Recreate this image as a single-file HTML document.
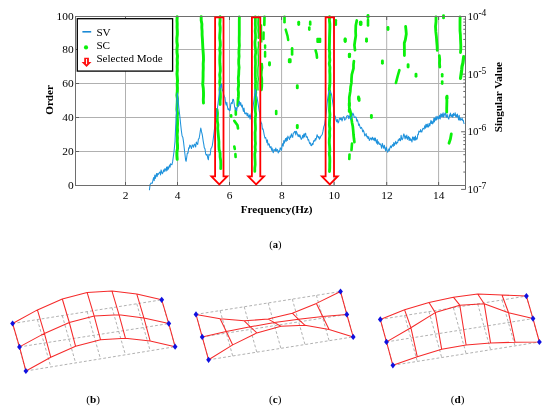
<!DOCTYPE html><html><head><meta charset="utf-8"><style>html,body{margin:0;padding:0;background:#fff;}svg{display:block;}text{font-family:"Liberation Serif","Times New Roman",serif;fill:#000;}</style></head><body>
<svg width="550" height="414" viewBox="0 0 550 414">
<rect width="550" height="414" fill="#fff"/>
<path d="M125.50 16.5V185.5M177.50 16.5V185.5M229.50 16.5V185.5M281.60 16.5V185.5M334.10 16.5V185.5M386.70 16.5V185.5M438.60 16.5V185.5M75.5 151.50H465.5M75.5 117.50H465.5M75.5 83.50H465.5M75.5 49.50H465.5" stroke="#b0b0b0" stroke-width="1" fill="none"/>
<path d="M125.50 185.5v-3.5M125.50 16.5v3.5M177.50 185.5v-3.5M177.50 16.5v3.5M229.50 185.5v-3.5M229.50 16.5v3.5M281.60 185.5v-3.5M281.60 16.5v3.5M334.10 185.5v-3.5M334.10 16.5v3.5M386.70 185.5v-3.5M386.70 16.5v3.5M438.60 185.5v-3.5M438.60 16.5v3.5M75.5 185.50h3.5M75.5 151.50h3.5M75.5 117.50h3.5M75.5 83.50h3.5M75.5 49.50h3.5M75.5 16.50h3.5M465.5 74.13h-4.4M465.5 56.78h-2.2M465.5 46.64h-2.2M465.5 39.43h-2.2M465.5 33.85h-2.2M465.5 29.29h-2.2M465.5 25.43h-2.2M465.5 22.09h-2.2M465.5 19.14h-2.2M465.5 131.77h-4.4M465.5 114.42h-2.2M465.5 104.27h-2.2M465.5 97.07h-2.2M465.5 91.48h-2.2M465.5 86.92h-2.2M465.5 83.06h-2.2M465.5 79.72h-2.2M465.5 76.77h-2.2M465.5 189.40h-4.4M465.5 172.05h-2.2M465.5 161.90h-2.2M465.5 154.70h-2.2M465.5 149.12h-2.2M465.5 144.55h-2.2M465.5 140.69h-2.2M465.5 137.35h-2.2M465.5 134.40h-2.2M465.5 16.5h-4.4M465.5 185.5V189.4" stroke="#555" stroke-width="0.9" fill="none"/>
<path d="M177.2 16.8 L177.0 20.4 L177.2 23.9 L177.1 27.5 L177.3 31.1 L177.3 34.6 L176.9 38.2 L176.9 41.7 L177.4 45.3 L177.0 48.9 L177.0 52.4 L177.5 56.0 L177.2 59.5 L177.4 63.1 L177.2 66.7 L177.3 70.2 L177.0 73.8 L177.3 77.4 L177.5 80.9 L177.2 84.5 L177.4 88.0 L177.3 91.6 L176.9 95.2 L177.4 98.7 L177.3 102.3 L177.1 105.9 L176.9 109.4 L177.5 113.0 L177.2 116.5 L177.4 120.1 L177.5 123.7 L177.3 127.2 L177.5 130.8 L177.1 134.4 L177.4 137.9 L177.2 141.5 L177.5 145.1 L177.5 148.6 L176.9 152.2 L176.9 155.7 L177.2 159.3" stroke="#0af00a" stroke-width="2.99" stroke-linecap="round" stroke-linejoin="round" fill="none"/><path d="M201.2 16.8 L201.2 20.4 L201.9 24.0 L201.8 27.6 L202.1 31.2 L202.1 34.8 L202.4 39.0 L202.6 43.1 L202.8 47.3 L203.1 51.4 L203.4 55.6 L203.5 59.8 L203.2 63.9 L203.3 68.1 L203.1 72.2 L203.1 76.4 L203.0 80.3 L202.7 84.3 L203.3 88.2 L203.5 92.1 L203.5 96.1 L203.3 100.0 L203.5 103.1" stroke="#0af00a" stroke-width="2.90" stroke-linecap="round" stroke-linejoin="round" fill="none"/><path d="M220.0 16.8 L220.1 20.4 L219.8 24.0 L220.2 27.6 L220.1 31.2 L219.8 34.8 L219.7 38.4 L220.2 42.0 L220.3 45.6 L219.7 49.2 L220.2 52.8 L219.9 56.4 L219.8 60.0 L219.9 63.7 L220.2 67.4 L220.3 71.1 L219.7 74.8 L220.1 78.5 L219.7 82.2 L220.2 86.0 L219.9 89.7 L220.3 93.4 L220.4 97.1 L220.1 100.8 L220.1 104.5" stroke="#0af00a" stroke-width="2.90" stroke-linecap="round" stroke-linejoin="round" fill="none"/><path d="M217.0 109.5 L217.5 113.3 L217.3 117.1 L217.3 120.9 L217.9 124.7 L217.7 128.5 L218.1 132.8 L218.5 137.2 L218.9 141.6 L218.9 145.9 L219.1 149.5 L220.1 153.1 L220.1 156.7 L220.7 160.7 L220.8 164.7 L220.7 168.7" stroke="#0af00a" stroke-width="2.82" stroke-linecap="round" stroke-linejoin="round" fill="none"/><path d="M239.4 16.8 L239.3 20.4 L239.3 24.0 L239.3 27.6 L239.3 31.2 L239.3 34.8 L239.2 38.4 L239.2 42.0 L239.4 45.6 L239.0 49.2 L238.9 52.8 L239.1 56.4 L238.7 60.0 L238.7 63.6 L239.1 67.3 L238.8 70.9 L238.7 74.5 L238.3 78.2 L238.5 81.8 L238.6 85.5 L238.1 89.1 L238.5 92.7 L238.4 96.4 L238.0 100.0 L237.8 105.5" stroke="#0af00a" stroke-width="2.82" stroke-linecap="round" stroke-linejoin="round" fill="none"/><path d="M255.3 16.8 L255.4 20.4 L255.3 24.0 L255.5 27.6 L255.2 31.2 L255.5 34.8 L255.5 38.4 L255.0 42.0 L255.1 45.6 L255.5 49.2 L255.7 52.8 L255.2 56.4 L255.4 60.0 L255.5 63.6 L255.3 67.3 L255.4 70.9 L255.3 74.5 L255.4 78.2 L255.6 81.8 L255.4 85.5 L255.5 89.1 L255.8 92.7 L255.3 96.4 L255.6 100.0 L255.7 103.6 L255.4 107.3 L255.3 110.9 L255.7 114.5 L255.3 118.2 L255.2 121.8 L255.4 125.5 L255.5 129.1 L255.1 132.7 L255.2 136.4 L255.2 140.0 L255.5 143.5 L255.1 147.0 L255.4 150.5 L254.8 154.0 L254.9 157.5 L255.1 161.0 L255.2 164.5 L254.8 168.0 L254.8 171.5" stroke="#0af00a" stroke-width="2.73" stroke-linecap="round" stroke-linejoin="round" fill="none"/><path d="M258.5 16.8 L258.3 20.3 L258.2 23.9 L258.5 27.4 L258.3 30.9 L258.7 34.5 L258.5 38.0" stroke="#0af00a" stroke-width="2.02" stroke-linecap="round" stroke-linejoin="round" fill="none"/><path d="M258.3 42.0 L258.5 45.7 L258.0 49.4 L258.1 53.1 L258.4 56.8 L258.3 60.5 L258.4 64.2 L258.0 67.8 L257.9 71.5 L257.9 75.2 L258.3 78.9 L257.9 82.6 L257.9 86.3 L258.0 90.0" stroke="#0af00a" stroke-width="1.41" stroke-linecap="round" stroke-linejoin="round" fill="none"/><path d="M261.5 25.0 L261.5 29.2 L261.6 33.5 L261.7 37.8 L261.8 42.0" stroke="#0af00a" stroke-width="1.41" stroke-linecap="round" stroke-linejoin="round" fill="none"/><path d="M261.9 64.0 L262.2 67.7 L261.6 71.4 L261.4 75.1 L262.0 78.9 L262.0 82.6 L262.0 86.3 L261.6 90.0" stroke="#0af00a" stroke-width="2.29" stroke-linecap="round" stroke-linejoin="round" fill="none"/><path d="M264.5 16.8 L264.4 20.9 L264.3 24.9" stroke="#0af00a" stroke-width="2.64" stroke-linecap="round" stroke-linejoin="round" fill="none"/><path d="M263.6 32.5 L263.5 39.0" stroke="#0af00a" stroke-width="2.46" stroke-linecap="round" stroke-linejoin="round" fill="none"/><path d="M265.1 45.5 L265.1 47.7" stroke="#0af00a" stroke-width="2.46" stroke-linecap="round" stroke-linejoin="round" fill="none"/><path d="M265.1 52.0 L265.1 56.4" stroke="#0af00a" stroke-width="2.46" stroke-linecap="round" stroke-linejoin="round" fill="none"/><path d="M284.5 16.8 L284.5 22.3" stroke="#0af00a" stroke-width="2.64" stroke-linecap="round" stroke-linejoin="round" fill="none"/><path d="M285.7 29.6 L287.5 35.8 L288.2 40.0" stroke="#0af00a" stroke-width="2.46" stroke-linecap="round" stroke-linejoin="round" fill="none"/><path d="M292.1 48.3 L292.1 54.5" stroke="#0af00a" stroke-width="2.64" stroke-linecap="round" stroke-linejoin="round" fill="none"/><path d="M315.6 50.4 L316.6 54.0 L317.0 57.7" stroke="#0af00a" stroke-width="2.64" stroke-linecap="round" stroke-linejoin="round" fill="none"/><path d="M310.2 21.9 L310.2 24.4" stroke="#0af00a" stroke-width="2.64" stroke-linecap="round" stroke-linejoin="round" fill="none"/><path d="M329.6 16.8 L329.4 20.4 L329.8 24.0 L329.8 27.7 L329.7 31.3 L329.6 34.9 L329.5 38.5 L329.5 42.1 L329.4 45.7 L329.3 49.4 L329.7 53.0 L329.5 56.6 L329.8 60.2 L329.3 63.8 L329.9 67.4 L329.7 71.1 L329.9 74.7 L329.9 78.3 L329.9 81.9 L329.7 85.5 L329.3 89.1 L329.8 92.8 L329.4 96.4 L329.5 100.0 L329.7 103.6 L329.6 107.2 L329.5 110.7 L329.9 114.3 L329.7 117.9 L329.5 121.5 L329.4 125.0 L329.8 128.6 L329.5 132.2 L329.7 135.8 L329.4 139.3 L329.3 142.9 L329.6 146.5 L329.8 150.1 L329.3 153.6 L329.7 157.2 L329.8 160.8 L329.7 164.4 L329.7 167.9 L329.5 171.5" stroke="#0af00a" stroke-width="2.90" stroke-linecap="round" stroke-linejoin="round" fill="none"/><path d="M335.8 20.2 L335.8 24.8" stroke="#0af00a" stroke-width="2.64" stroke-linecap="round" stroke-linejoin="round" fill="none"/><path d="M356.8 20.5 L355.8 25.6 L355.6 31.4 L355.8 35.7 L354.9 41.5 L354.4 45.2 L355.0 50.2" stroke="#0af00a" stroke-width="2.73" stroke-linecap="round" stroke-linejoin="round" fill="none"/><path d="M353.9 61.1 L353.5 64.7 L353.5 68.3 L351.8 74.6 L351.5 78.8 L351.4 82.9 L350.6 87.1 L350.3 91.2 L349.3 97.4 L349.3 102.6 L349.3 107.8 L350.5 111.9 L351.0 116.1 L352.0 122.4 L352.8 126.5 L353.2 130.7 L353.5 134.5 L353.9 138.3 L354.4 142.1" stroke="#0af00a" stroke-width="2.73" stroke-linecap="round" stroke-linejoin="round" fill="none"/><path d="M368.0 20.0 L368.0 25.4" stroke="#0af00a" stroke-width="2.64" stroke-linecap="round" stroke-linejoin="round" fill="none"/><path d="M399.4 70.2 L397.7 76.0 L396.8 79.5 L395.9 83.0" stroke="#0af00a" stroke-width="2.64" stroke-linecap="round" stroke-linejoin="round" fill="none"/><path d="M405.6 26.4 L406.0 30.2 L406.3 34.0 L405.3 40.0 L404.3 43.0 L404.4 49.3 L404.4 55.5" stroke="#0af00a" stroke-width="2.82" stroke-linecap="round" stroke-linejoin="round" fill="none"/><path d="M436.0 16.8 L436.0 21.6 L435.5 26.5 L435.8 31.7 L436.4 36.9 L436.7 41.4 L437.1 45.9 L437.3 50.4" stroke="#0af00a" stroke-width="2.82" stroke-linecap="round" stroke-linejoin="round" fill="none"/><path d="M439.3 55.6 L439.7 59.4 L439.5 63.2 L439.8 67.0" stroke="#0af00a" stroke-width="2.82" stroke-linecap="round" stroke-linejoin="round" fill="none"/><path d="M446.7 97.2 L446.9 101.0 L446.8 104.7 L446.7 108.5 L446.7 112.2" stroke="#0af00a" stroke-width="2.82" stroke-linecap="round" stroke-linejoin="round" fill="none"/><path d="M451.3 134.0 L450.4 139.0 L449.0 143.2" stroke="#0af00a" stroke-width="2.82" stroke-linecap="round" stroke-linejoin="round" fill="none"/><path d="M460.1 16.8 L460.0 21.6 L460.0 26.5 L460.0 30.7 L460.4 34.8 L460.5 39.0 L460.8 45.2 L460.8 48.9 L460.5 52.5" stroke="#0af00a" stroke-width="2.82" stroke-linecap="round" stroke-linejoin="round" fill="none"/><path d="M463.7 56.6 L462.9 63.0 L462.0 66.5 L461.7 70.0 L461.1 74.2 L460.5 78.4" stroke="#0af00a" stroke-width="3.17" stroke-linecap="round" stroke-linejoin="round" fill="none"/><path d="M231.1 115.4 L231.1 116.6" stroke="#0af00a" stroke-width="2.64" stroke-linecap="round" stroke-linejoin="round" fill="none"/><path d="M234.3 120.9 L237.5 125.2 L238.0 128.5" stroke="#0af00a" stroke-width="2.64" stroke-linecap="round" stroke-linejoin="round" fill="none"/><path d="M235.8 110.4 L235.8 114.6" stroke="#0af00a" stroke-width="2.64" stroke-linecap="round" stroke-linejoin="round" fill="none"/><path d="M234.3 146.5 L234.8 149.0" stroke="#0af00a" stroke-width="2.64" stroke-linecap="round" stroke-linejoin="round" fill="none"/><path d="M235.4 154.0 L235.6 157.0" stroke="#0af00a" stroke-width="2.64" stroke-linecap="round" stroke-linejoin="round" fill="none"/><path d="M276.2 111.0 L276.2 114.0" stroke="#0af00a" stroke-width="2.64" stroke-linecap="round" stroke-linejoin="round" fill="none"/><path d="M309.3 27.5 L309.3 29.6" stroke="#0af00a" stroke-width="2.64" stroke-linecap="round" stroke-linejoin="round" fill="none"/><path d="M442.2 74.3 L442.2 76.3" stroke="#0af00a" stroke-width="2.64" stroke-linecap="round" stroke-linejoin="round" fill="none"/><path d="M352.0 143.5 L351.5 150.0" stroke="#0af00a" stroke-width="2.64" stroke-linecap="round" stroke-linejoin="round" fill="none"/><path d="M349.5 154.5 L349.3 159.0" stroke="#0af00a" stroke-width="2.64" stroke-linecap="round" stroke-linejoin="round" fill="none"/><path d="M442.2 81.6 L442.2 83.6" stroke="#0af00a" stroke-width="2.64" stroke-linecap="round" stroke-linejoin="round" fill="none"/><path d="M298.7 22.3 L298.7 24.5" stroke="#0af00a" stroke-width="2.90" stroke-linecap="round" stroke-linejoin="round" fill="none"/><path d="M290.2 59.7 L290.2 61.9" stroke="#0af00a" stroke-width="2.90" stroke-linecap="round" stroke-linejoin="round" fill="none"/><path d="M297.3 85.7 L297.3 87.9" stroke="#0af00a" stroke-width="2.90" stroke-linecap="round" stroke-linejoin="round" fill="none"/><path d="M345.1 38.9 L345.1 41.1" stroke="#0af00a" stroke-width="2.90" stroke-linecap="round" stroke-linejoin="round" fill="none"/><path d="M349.3 54.5 L349.3 56.7" stroke="#0af00a" stroke-width="2.90" stroke-linecap="round" stroke-linejoin="round" fill="none"/><path d="M360.4 22.3 L360.4 24.5" stroke="#0af00a" stroke-width="2.90" stroke-linecap="round" stroke-linejoin="round" fill="none"/><path d="M345.2 39.3 L345.2 41.5" stroke="#0af00a" stroke-width="2.90" stroke-linecap="round" stroke-linejoin="round" fill="none"/><path d="M349.6 54.2 L349.6 56.4" stroke="#0af00a" stroke-width="2.90" stroke-linecap="round" stroke-linejoin="round" fill="none"/><path d="M368.0 15.4 L368.0 17.6" stroke="#0af00a" stroke-width="2.90" stroke-linecap="round" stroke-linejoin="round" fill="none"/><path d="M366.5 39.0 L366.5 41.2" stroke="#0af00a" stroke-width="2.90" stroke-linecap="round" stroke-linejoin="round" fill="none"/><path d="M361.0 22.2 L361.0 24.4" stroke="#0af00a" stroke-width="2.90" stroke-linecap="round" stroke-linejoin="round" fill="none"/><path d="M388.0 27.4 L388.0 29.6" stroke="#0af00a" stroke-width="2.90" stroke-linecap="round" stroke-linejoin="round" fill="none"/><path d="M382.4 61.0 L382.4 63.2" stroke="#0af00a" stroke-width="2.90" stroke-linecap="round" stroke-linejoin="round" fill="none"/><path d="M408.1 64.8 L408.1 67.0" stroke="#0af00a" stroke-width="2.90" stroke-linecap="round" stroke-linejoin="round" fill="none"/><path d="M416.0 74.1 L416.0 76.3" stroke="#0af00a" stroke-width="2.90" stroke-linecap="round" stroke-linejoin="round" fill="none"/><path d="M443.5 15.7 L443.5 17.9" stroke="#0af00a" stroke-width="2.90" stroke-linecap="round" stroke-linejoin="round" fill="none"/><path d="M447.0 96.1 L447.0 98.3" stroke="#0af00a" stroke-width="2.90" stroke-linecap="round" stroke-linejoin="round" fill="none"/><path d="M371.4 115.4 L371.4 117.6" stroke="#0af00a" stroke-width="2.90" stroke-linecap="round" stroke-linejoin="round" fill="none"/><path d="M359.1 98.4 L359.1 100.6" stroke="#0af00a" stroke-width="2.90" stroke-linecap="round" stroke-linejoin="round" fill="none"/><path d="M297.3 125.5 L297.3 127.7" stroke="#0af00a" stroke-width="2.90" stroke-linecap="round" stroke-linejoin="round" fill="none"/><path d="M269.5 62.8 L269.5 65.0" stroke="#0af00a" stroke-width="2.90" stroke-linecap="round" stroke-linejoin="round" fill="none"/><path d="M289.3 59.7 L289.3 61.9" stroke="#0af00a" stroke-width="2.90" stroke-linecap="round" stroke-linejoin="round" fill="none"/><path d="M349.3 103.4 L349.3 105.6" stroke="#0af00a" stroke-width="2.90" stroke-linecap="round" stroke-linejoin="round" fill="none"/><path d="M349.3 109.4 L349.3 111.6" stroke="#0af00a" stroke-width="2.90" stroke-linecap="round" stroke-linejoin="round" fill="none"/><path d="M358.5 96.9 L358.5 99.1" stroke="#0af00a" stroke-width="2.90" stroke-linecap="round" stroke-linejoin="round" fill="none"/>
<g fill="#0af00a"><rect x="316.3" y="37.8" width="5" height="5.2" rx="1"/></g>
<path d="M149.4 190.3 L150.1 184.6 L150.6 183.8 L151.0 183.0 L151.7 183.3 L152.3 183.2 L153.0 180.0 L153.6 177.6 L154.2 180.6 L154.8 175.0 L155.4 178.5 L156.0 175.7 L156.6 173.5 L157.1 176.6 L157.7 173.5 L158.2 174.6 L158.8 173.5 L159.4 172.4 L160.0 172.0 L160.5 175.0 L161.1 169.9 L161.7 172.0 L162.3 173.8 L162.9 172.8 L163.6 169.9 L164.2 171.6 L164.8 168.7 L165.4 169.0 L166.0 171.2 L166.6 167.1 L167.2 170.3 L167.8 166.7 L168.4 169.2 L169.0 167.0 L169.6 165.0 L170.1 167.1 L170.6 163.7 L171.2 164.5 L171.9 164.8 L172.6 161.9 L173.3 156.8 L174.0 151.7 L174.5 146.6 L175.0 141.6 L175.5 130.0 L176.0 120.0 L176.5 110.0 L177.3 93.0 L177.9 98.5 L178.5 104.0 L178.9 108.2 L179.4 112.5 L180.1 118.7 L180.7 124.8 L181.4 131.0 L182.1 136.0 L182.8 137.2 L183.5 141.6 L184.2 147.7 L184.9 153.9 L185.6 160.0 L186.1 161.3 L186.6 158.2 L187.3 153.1 L188.0 153.2 L188.7 147.8 L189.2 148.4 L189.8 145.1 L190.3 145.4 L190.8 146.8 L191.5 148.5 L192.2 144.9 L192.9 145.7 L193.6 147.2 L194.3 144.0 L195.0 144.7 L195.7 147.0 L196.3 142.0 L197.0 143.7 L197.7 144.4 L198.4 139.1 L199.1 138.5 L199.7 135.0 L200.2 131.5 L200.8 128.0 L201.5 131.7 L202.2 134.3 L202.7 137.7 L203.2 141.1 L203.8 144.4 L204.3 147.8 L205.0 148.9 L205.7 154.0 L206.4 155.1 L207.1 154.4 L207.8 158.2 L208.4 159.8 L208.9 154.3 L209.5 155.1 L210.2 155.0 L210.9 148.5 L211.6 147.8 L212.3 145.7 L213.0 140.9 L213.7 135.3 L214.2 131.2 L214.7 127.0 L215.4 121.8 L216.2 116.6 L216.8 112.4 L217.4 108.3 L218.1 102.8 L218.8 97.2 L219.5 91.7 L220.1 86.6 L220.6 87.7 L221.2 84.2 L221.7 84.0 L222.3 90.7 L222.8 90.0 L223.6 94.3 L224.3 96.4 L224.9 97.4 L225.5 102.6 L226.2 105.1 L226.8 102.2 L227.4 106.7 L228.1 109.5 L228.7 108.7 L229.4 110.8 L230.1 110.4 L230.8 104.0 L231.5 102.6 L232.2 103.6 L232.8 99.3 L233.5 99.5 L234.1 103.1 L234.6 106.7 L235.3 109.7 L235.9 107.6 L236.6 110.8 L237.3 107.0 L238.0 106.8 L238.7 103.6 L239.4 101.3 L240.0 105.4 L240.7 102.6 L241.2 104.9 L241.8 107.0 L242.3 105.0 L242.8 108.7 L243.4 111.5 L244.0 108.1 L244.7 113.3 L245.3 114.0 L245.9 112.8 L246.5 112.9 L247.1 115.8 L247.8 113.3 L248.4 117.1 L249.0 117.0 L249.5 114.9 L250.1 119.1 L250.6 116.5 L251.2 113.6 L251.8 111.6 L252.3 112.4 L252.9 108.3 L253.4 104.2 L254.0 100.1 L254.5 96.0 L255.2 89.5 L255.8 90.3 L256.4 96.0 L257.0 97.0 L257.5 100.3 L258.1 103.7 L258.6 107.1 L259.1 110.4 L259.8 113.6 L260.5 120.8 L261.2 122.9 L261.8 123.7 L262.4 129.2 L263.1 129.0 L263.7 132.2 L264.3 135.3 L265.0 138.1 L265.7 137.5 L266.4 140.5 L266.9 142.7 L267.4 139.9 L268.0 145.3 L268.5 143.7 L269.2 143.9 L269.8 147.2 L270.5 147.8 L271.0 146.5 L271.6 150.3 L272.1 148.0 L272.6 150.9 L273.3 152.7 L274.0 149.4 L274.7 149.9 L275.2 150.9 L275.8 148.1 L276.3 151.0 L276.8 149.9 L277.5 149.6 L278.2 153.0 L278.9 150.9 L279.6 151.6 L280.2 147.8 L280.9 148.9 L281.5 150.3 L282.1 145.3 L282.7 143.6 L283.2 146.1 L283.8 140.6 L284.4 143.1 L285.0 140.3 L285.6 138.5 L286.1 141.4 L286.7 137.7 L287.3 140.5 L287.9 136.1 L288.4 137.6 L289.0 138.1 L289.6 139.5 L290.2 135.9 L290.8 137.5 L291.4 133.8 L292.0 135.9 L292.7 137.4 L293.3 133.1 L294.0 133.0 L294.6 131.4 L295.2 131.3 L295.8 134.9 L296.3 131.3 L296.9 132.6 L297.5 134.3 L298.1 136.4 L298.7 134.7 L299.3 136.9 L299.9 134.8 L300.5 137.0 L301.2 139.4 L302.0 138.3 L302.6 135.4 L303.2 137.9 L303.8 134.0 L304.4 136.9 L305.0 133.5 L305.6 133.2 L306.3 137.3 L306.9 136.6 L307.4 136.9 L308.0 140.1 L308.6 139.6 L309.1 141.7 L309.7 143.7 L310.4 142.8 L311.0 145.6 L311.6 145.7 L312.2 143.6 L312.9 144.6 L313.6 141.1 L314.2 140.3 L314.8 141.2 L315.3 138.5 L315.8 140.0 L316.4 138.1 L317.1 134.7 L317.8 136.6 L318.4 137.8 L318.9 136.6 L319.4 139.2 L320.0 138.3 L320.8 136.2 L321.5 135.5 L322.2 134.5 L323.0 131.2 L323.8 126.6 L324.5 125.0 L325.0 121.8 L325.5 118.7 L326.0 114.6 L326.5 110.4 L327.0 105.2 L327.5 100.0 L328.0 96.7 L328.5 93.3 L329.2 90.8 L330.0 90.6 L330.8 93.4 L331.5 94.0 L332.2 99.0 L333.0 104.0 L333.8 110.0 L334.5 116.0 L335.2 116.1 L336.0 120.0 L336.7 121.7 L337.3 119.4 L338.0 123.0 L338.7 121.9 L339.3 118.9 L340.0 118.0 L340.7 119.6 L341.3 118.0 L342.0 121.0 L342.7 118.7 L343.3 116.8 L344.0 117.0 L344.7 120.2 L345.3 118.9 L346.0 119.0 L346.7 116.0 L347.3 115.9 L348.0 115.5 L348.7 118.7 L349.3 115.8 L350.0 118.0 L350.7 119.3 L351.3 117.6 L352.0 116.0 L352.8 113.1 L353.5 114.5 L354.2 117.1 L354.8 117.5 L355.5 117.0 L356.1 117.2 L356.8 121.1 L357.4 119.8 L358.0 122.0 L358.7 125.5 L359.3 124.0 L360.0 127.0 L360.7 128.4 L361.3 127.4 L362.0 128.5 L362.7 131.8 L363.3 130.1 L364.0 132.0 L364.8 135.9 L365.5 135.0 L366.1 133.6 L366.8 137.0 L367.4 136.2 L368.0 138.5 L368.7 136.7 L369.3 140.5 L370.0 139.5 L370.6 138.0 L371.2 138.5 L371.8 140.0 L372.4 137.2 L373.0 139.0 L373.6 140.0 L374.2 137.9 L374.8 140.8 L375.4 138.0 L376.0 141.0 L376.6 143.2 L377.2 139.6 L377.8 144.4 L378.4 141.7 L379.0 143.0 L379.7 144.5 L380.3 143.9 L381.0 145.5 L381.7 148.3 L382.3 143.4 L383.0 146.0 L383.7 148.3 L384.3 145.2 L385.0 148.3 L385.7 150.9 L386.3 147.1 L387.0 150.2 L387.6 152.2 L388.3 150.6 L388.9 148.8 L389.4 150.4 L390.0 147.5 L390.7 145.9 L391.3 147.8 L392.0 145.7 L392.6 144.6 L393.2 146.4 L393.8 142.6 L394.4 145.4 L395.0 143.5 L395.7 141.3 L396.3 144.1 L397.0 142.5 L397.6 142.8 L398.2 139.8 L398.8 140.4 L399.4 138.5 L400.0 140.4 L400.5 140.7 L401.1 135.2 L401.7 138.9 L402.2 139.7 L402.8 138.6 L403.4 135.3 L403.9 133.9 L404.5 136.2 L405.1 139.0 L405.7 135.9 L406.2 138.0 L406.8 135.1 L407.4 139.4 L408.0 137.5 L408.6 136.4 L409.1 140.5 L409.7 137.6 L410.3 140.4 L410.8 138.9 L411.4 140.0 L412.0 142.0 L412.6 136.9 L413.1 136.9 L413.7 140.0 L414.3 137.3 L414.9 140.4 L415.4 136.1 L416.0 139.8 L416.6 138.0 L417.2 139.0 L417.8 134.3 L418.3 134.7 L418.9 131.1 L419.5 131.5 L420.1 132.0 L420.6 129.6 L421.2 131.7 L421.8 132.0 L422.4 129.9 L422.9 128.3 L423.5 128.4 L424.1 129.2 L424.8 125.7 L425.4 128.2 L426.0 124.2 L426.6 127.1 L427.3 124.1 L427.9 127.1 L428.5 126.9 L429.1 123.3 L429.8 125.9 L430.4 123.2 L431.0 120.4 L431.5 123.5 L432.1 121.3 L432.7 123.9 L433.3 122.6 L433.9 118.1 L434.4 122.0 L435.0 118.1 L435.6 120.2 L436.1 116.2 L436.7 119.9 L437.3 118.0 L437.9 116.2 L438.5 119.0 L439.1 118.1 L439.6 115.3 L440.2 119.0 L440.8 113.8 L441.4 116.7 L442.0 114.1 L442.6 116.7 L443.1 112.8 L443.7 117.1 L444.3 114.8 L444.9 113.5 L445.4 112.9 L446.0 116.9 L446.6 117.2 L447.1 114.3 L447.7 117.0 L448.2 117.9 L448.8 119.1 L449.4 114.9 L449.9 116.8 L450.4 113.1 L451.0 115.5 L451.6 116.5 L452.2 114.6 L452.8 117.4 L453.4 113.3 L454.0 115.6 L454.6 115.0 L455.2 112.7 L455.7 116.8 L456.3 114.9 L456.9 117.0 L457.4 114.1 L458.0 117.0 L458.6 119.9 L459.2 115.2 L459.8 120.3 L460.3 118.1 L460.9 120.2 L461.5 119.7 L462.1 118.1 L462.7 120.6 L463.3 120.3 L463.9 123.5 L464.5 123.5" stroke="#1e92dc" stroke-width="1.05" fill="none" stroke-linejoin="round"/>
<rect x="75.5" y="16.5" width="390.00" height="169.00" stroke="#6e6e6e" stroke-width="1" fill="none"/>
<path d="M215.10 17.3H223.50V176.40H227.20L219.30 184.4L211.40 176.40H215.10Z" stroke="#ff0000" stroke-width="1.8" fill="none" stroke-linejoin="miter"/>
<path d="M251.90 17.3H260.30V176.40H264.00L256.10 184.4L248.20 176.40H251.90Z" stroke="#ff0000" stroke-width="1.8" fill="none" stroke-linejoin="miter"/>
<path d="M325.60 17.3H334.00V176.40H337.70L329.80 184.4L321.90 176.40H325.60Z" stroke="#ff0000" stroke-width="1.8" fill="none" stroke-linejoin="miter"/>
<rect x="77.3" y="18.7" width="95.3" height="52.4" fill="#fff" stroke="#000" stroke-width="1.3"/>
<path d="M82.4 31.8H91.2" stroke="#1b8ad6" stroke-width="1.6"/>
<circle cx="86" cy="47.4" r="2.1" fill="#0af00a"/>
<path d="M84.2 57.8H88.9V62H91.5L86.55 67.1L81.6 62H84.2Z" fill="#ff1010"/><path d="M86.55 59V64.2" stroke="#fff" stroke-width="1"/>
<text x="96.4" y="35.8" font-size="11.2">SV</text>
<text x="96.4" y="48.9" font-size="11.2">SC</text>
<text x="96.4" y="62.1" font-size="11.1">Selected Mode</text>
<text x="73.6" y="189.30" font-size="11.4" text-anchor="end">0</text>
<text x="73.6" y="155.30" font-size="11.4" text-anchor="end">20</text>
<text x="73.6" y="121.30" font-size="11.4" text-anchor="end">40</text>
<text x="73.6" y="87.30" font-size="11.4" text-anchor="end">60</text>
<text x="73.6" y="53.30" font-size="11.4" text-anchor="end">80</text>
<text x="73.6" y="20.30" font-size="11.4" text-anchor="end">100</text>
<text x="125.70" y="198.6" font-size="11.4" text-anchor="middle">2</text>
<text x="177.70" y="198.6" font-size="11.4" text-anchor="middle">4</text>
<text x="229.70" y="198.6" font-size="11.4" text-anchor="middle">6</text>
<text x="281.80" y="198.6" font-size="11.4" text-anchor="middle">8</text>
<text x="334.30" y="198.6" font-size="11.4" text-anchor="middle">10</text>
<text x="386.90" y="198.6" font-size="11.4" text-anchor="middle">12</text>
<text x="438.80" y="198.6" font-size="11.4" text-anchor="middle">14</text>
<text x="467.4" y="19.90" font-size="11">10<tspan dy="-4" font-size="9.5">-4</tspan></text>
<text x="467.4" y="77.53" font-size="11">10<tspan dy="-4" font-size="9.5">-5</tspan></text>
<text x="467.4" y="135.17" font-size="11">10<tspan dy="-4" font-size="9.5">-6</tspan></text>
<text x="467.4" y="192.80" font-size="11">10<tspan dy="-4" font-size="9.5">-7</tspan></text>
<text x="276.6" y="213.1" font-size="11.2" font-weight="bold" text-anchor="middle">Frequency(Hz)</text>
<text transform="translate(53.1 99.9) rotate(-90)" font-size="11.2" font-weight="bold" text-anchor="middle">Order</text>
<text transform="translate(502.4 97.1) rotate(-90)" font-size="11.2" font-weight="bold" text-anchor="middle">Singular Value</text>
<text x="275.4" y="248.2" font-size="10.6" text-anchor="middle">(<tspan font-weight="bold">a</tspan>)</text>
<path d="M12.6 323.5L161.7 299.8M19.5 346.9L168.8 323.6M25.9 371.0L175.1 346.7M12.6 323.5L25.9 371.0M37.4 319.6L50.8 366.9M62.3 315.6L75.6 362.9M87.1 311.6L100.5 358.9M112.0 307.7L125.4 354.8M136.8 303.8L150.2 350.8M161.7 299.8L175.1 346.7" stroke="#a8a8a8" stroke-width="0.9" stroke-dasharray="2.8 2.1" fill="none"/><path d="M12.6 323.5L37.4 309.9L62.3 299.0L87.1 292.4L112.0 291.1L136.8 294.1L161.7 299.8M19.5 346.9L44.4 333.4L69.3 322.5L94.2 316.1L119.0 314.7L143.9 317.9L168.8 323.6M25.9 371.0L50.8 357.3L75.6 346.3L100.5 339.7L125.4 338.2L150.2 341.1L175.1 346.7M12.6 323.5L19.5 346.9L25.9 371.0M37.4 309.9L44.4 333.4L50.8 357.3M62.3 299.0L69.3 322.5L75.6 346.3M87.1 292.4L94.2 316.1L100.5 339.7M112.0 291.1L119.0 314.7L125.4 338.2M136.8 294.1L143.9 317.9L150.2 341.1M161.7 299.8L168.8 323.6L175.1 346.7" stroke="#f52a2a" stroke-width="1.05" fill="none" stroke-linejoin="round"/><path d="M12.6 320.4l2.4 3.1l-2.4 3.1l-2.4 -3.1z" fill="#1010e0"/><path d="M161.7 296.7l2.4 3.1l-2.4 3.1l-2.4 -3.1z" fill="#1010e0"/><path d="M19.5 343.8l2.4 3.1l-2.4 3.1l-2.4 -3.1z" fill="#1010e0"/><path d="M168.8 320.5l2.4 3.1l-2.4 3.1l-2.4 -3.1z" fill="#1010e0"/><path d="M25.9 367.9l2.4 3.1l-2.4 3.1l-2.4 -3.1z" fill="#1010e0"/><path d="M175.1 343.6l2.4 3.1l-2.4 3.1l-2.4 -3.1z" fill="#1010e0"/>
<path d="M196.0 314.4L340.5 291.5M202.2 336.9L346.8 314.4M208.6 359.8L353.2 336.9M196.0 314.4L208.6 359.8M220.1 310.6L232.7 356.0M244.2 306.8L256.8 352.2M268.2 302.9L280.9 348.4M292.3 299.1L305.0 344.5M316.4 295.3L329.1 340.7M340.5 291.5L353.2 336.9" stroke="#a8a8a8" stroke-width="0.9" stroke-dasharray="2.8 2.1" fill="none"/><path d="M196.0 314.4L220.1 318.7L244.2 320.8L268.2 319.1L292.3 313.2L316.4 303.4L340.5 291.5M202.2 336.9L226.3 331.6L250.4 326.8L274.5 322.6L298.6 319.3L322.7 316.6L346.8 314.4M208.6 359.8L232.7 344.9L256.8 332.9L280.9 326.2L305.0 325.3L329.1 329.6L353.2 336.9M196.0 314.4L202.2 336.9L208.6 359.8M220.1 318.7L226.3 331.6L232.7 344.9M244.2 320.8L250.4 326.8L256.8 332.9M268.2 319.1L274.5 322.6L280.9 326.2M292.3 313.2L298.6 319.3L305.0 325.3M316.4 303.4L322.7 316.6L329.1 329.6M340.5 291.5L346.8 314.4L353.2 336.9" stroke="#f52a2a" stroke-width="1.05" fill="none" stroke-linejoin="round"/><path d="M196.0 311.3l2.4 3.1l-2.4 3.1l-2.4 -3.1z" fill="#1010e0"/><path d="M340.5 288.4l2.4 3.1l-2.4 3.1l-2.4 -3.1z" fill="#1010e0"/><path d="M202.2 333.8l2.4 3.1l-2.4 3.1l-2.4 -3.1z" fill="#1010e0"/><path d="M346.8 311.3l2.4 3.1l-2.4 3.1l-2.4 -3.1z" fill="#1010e0"/><path d="M208.6 356.7l2.4 3.1l-2.4 3.1l-2.4 -3.1z" fill="#1010e0"/><path d="M353.2 333.8l2.4 3.1l-2.4 3.1l-2.4 -3.1z" fill="#1010e0"/>
<path d="M380.3 319.4L526.4 296.1M386.5 341.9L533.0 318.6M392.9 365.3L539.4 342.0M380.3 319.4L392.9 365.3M404.6 315.5L417.3 361.4M429.0 311.6L441.7 357.5M453.4 307.8L466.1 353.6M477.7 303.9L490.6 349.8M502.0 300.0L515.0 345.9M526.4 296.1L539.4 342.0" stroke="#a8a8a8" stroke-width="0.9" stroke-dasharray="2.8 2.1" fill="none"/><path d="M380.3 319.4L404.6 309.8L429.0 302.5L453.4 297.2L477.7 294.0L502.0 295.0L526.4 296.1M386.5 341.9L410.9 327.7L435.3 312.6L459.8 305.2L484.2 303.7L508.6 312.8L533.0 318.6M392.9 365.3L417.3 356.8L441.7 349.3L466.1 345.0L490.6 343.1L515.0 342.2L539.4 342.0M380.3 319.4L386.5 341.9L392.9 365.3M404.6 309.8L410.9 327.7L417.3 356.8M429.0 302.5L435.3 312.6L441.7 349.3M453.4 297.2L459.8 305.2L466.1 345.0M477.7 294.0L484.2 303.7L490.6 343.1M502.0 295.0L508.6 312.8L515.0 342.2M526.4 296.1L533.0 318.6L539.4 342.0" stroke="#f52a2a" stroke-width="1.05" fill="none" stroke-linejoin="round"/><path d="M380.3 316.3l2.4 3.1l-2.4 3.1l-2.4 -3.1z" fill="#1010e0"/><path d="M526.4 293.0l2.4 3.1l-2.4 3.1l-2.4 -3.1z" fill="#1010e0"/><path d="M386.5 338.8l2.4 3.1l-2.4 3.1l-2.4 -3.1z" fill="#1010e0"/><path d="M533.0 315.5l2.4 3.1l-2.4 3.1l-2.4 -3.1z" fill="#1010e0"/><path d="M392.9 362.2l2.4 3.1l-2.4 3.1l-2.4 -3.1z" fill="#1010e0"/><path d="M539.4 338.9l2.4 3.1l-2.4 3.1l-2.4 -3.1z" fill="#1010e0"/>
<text x="93.1" y="402.8" font-size="11.2" text-anchor="middle">(<tspan font-weight="bold">b</tspan>)</text>
<text x="275.2" y="402.8" font-size="11.2" text-anchor="middle">(<tspan font-weight="bold">c</tspan>)</text>
<text x="457.7" y="402.8" font-size="11.2" text-anchor="middle">(<tspan font-weight="bold">d</tspan>)</text>
</svg></body></html>
